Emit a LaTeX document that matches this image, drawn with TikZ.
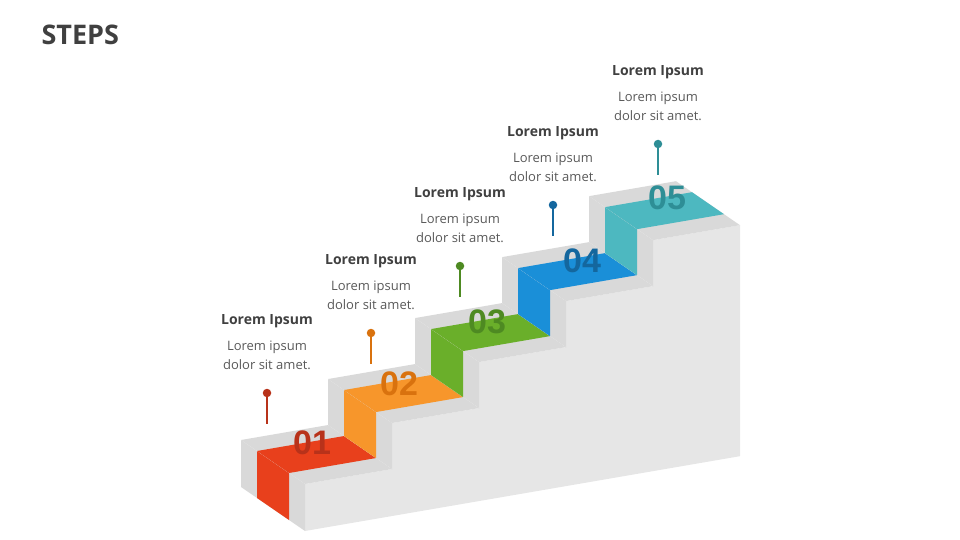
\documentclass[tikz,border=0pt]{standalone}
\usepackage{fontspec}
\setmainfont{Open Sans}
\newfontfamily\numfont{Liberation Sans}
\definecolor{rimgray}{HTML}{D9D9D9}
\definecolor{facegray}{HTML}{E6E6E6}
\definecolor{txtdark}{HTML}{404040}
\definecolor{txtbody}{HTML}{595959}
\definecolor{cA}{HTML}{E8401C}\definecolor{dA}{HTML}{B8321A}
\definecolor{cB}{HTML}{F7962B}\definecolor{dB}{HTML}{D9720E}
\definecolor{cC}{HTML}{6AAF2A}\definecolor{dC}{HTML}{4E8A22}
\definecolor{cD}{HTML}{1A8FD8}\definecolor{dD}{HTML}{14679E}
\definecolor{cE}{HTML}{4DB8C0}\definecolor{dE}{HTML}{2E8E96}
\def\SP#1#2#3{({241+(#1)+(#2)},{440-0.172*(#1)+0.6875*(#2)-(#3)})}
\tikzset{
  head/.style={font=\bfseries\fontsize{14}{16}\selectfont, text=txtdark},
  body/.style={font=\fontsize{13}{19}\selectfont, text=txtbody, align=center},
  num/.style={font=\numfont\bfseries\fontsize{34}{34}\selectfont},
  pinline/.style={line width=2.2pt}
}
\begin{document}
\begin{tikzpicture}[x=1pt,y=-1pt]
\useasboundingbox (0,0) rectangle (960,540);
\node[anchor=west, font=\bfseries\fontsize{27}{30}\selectfont, text=txtdark] (title) at (38,35) {STEPS};
% front face
\fill[facegray] \SP{0}{64}{-47} -- \SP{0}{64}{0} -- \SP{87}{64}{0} -- \SP{87}{64}{46} -- \SP{174}{64}{46} -- \SP{174}{64}{92} -- \SP{261}{64}{92} -- \SP{261}{64}{138} -- \SP{348}{64}{138} -- \SP{348}{64}{184} -- \SP{435}{64}{184} -- \SP{435}{64}{-47} -- cycle;
\foreach \i/\c in {0/cA,1/cB,2/cC,3/cD,4/cE}{
  \pgfmathsetmacro\xs{87*\i}
  \pgfmathsetmacro\xe{87*(\i+1)}
  \pgfmathsetmacro\h{46*\i}
  \pgfmathsetmacro\hb{\i==0 ? -47 : 46*(\i-1)}
  % riser
  \fill[rimgray] \SP{\xs}{0}{\hb} -- \SP{\xs}{0}{\h} -- \SP{\xs}{64}{\h} -- \SP{\xs}{64}{\hb} -- cycle;
  \fill[\c] \SP{\xs}{16}{\hb} -- \SP{\xs}{16}{\h} -- \SP{\xs}{48}{\h} -- \SP{\xs}{48}{\hb} -- cycle;
  % tread
  \fill[rimgray] \SP{\xs}{0}{\h} -- \SP{\xe}{0}{\h} -- \SP{\xe}{64}{\h} -- \SP{\xs}{64}{\h} -- cycle;
  \fill[\c] \SP{\xs}{16}{\h} -- \SP{\xe}{16}{\h} -- \SP{\xe}{48}{\h} -- \SP{\xs}{48}{\h} -- cycle;
}
% numbers
\node[num, text=dA] (n1) at (312,443) {01};
\node[num, text=dB] (n2) at (399,384) {02};
\node[num, text=dC] (n3) at (487,322) {03};
\node[num, text=dD] (n4) at (582,261) {04};
\node[num, text=dE] (n5) at (667,198) {05};
% pins and texts
\foreach \k/\x/\y/\d in {1/267/393/dA,2/371/333/dB,3/460/266/dC,4/553/205/dD,5/658/144/dE}{
  \node[circle, fill=\d, inner sep=0pt, minimum size=8.5pt] (p\k) at (\x,\y) {};
  \coordinate (q\k) at (\x,\y+31);
  \draw[pinline, \d] (p\k.center) -- (q\k);
  \node[head] (h\k) at (\x,\y-72) {Lorem Ipsum};
  \node[body] (b\k) at (\x,\y-38) {Lorem ipsum\\dolor sit amet.};
}
\end{tikzpicture}
\end{document}
